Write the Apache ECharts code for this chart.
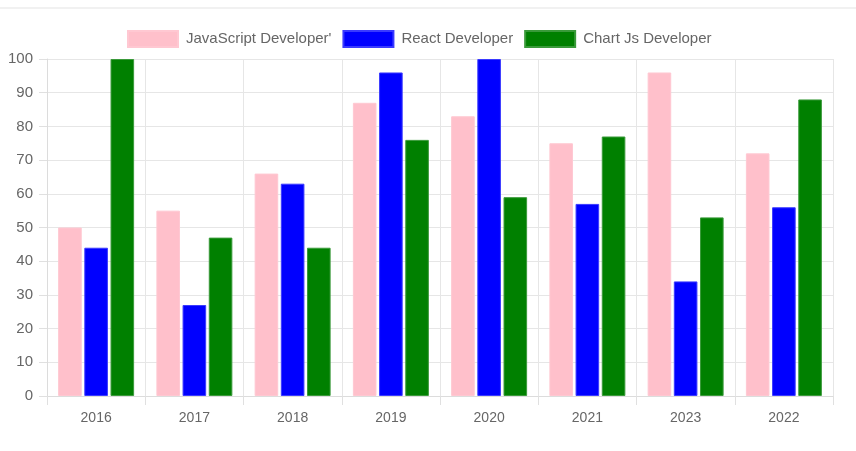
<!DOCTYPE html>
<html><head><meta charset="utf-8">
<script src="https://cdn.jsdelivr.net/npm/echarts@6/dist/echarts.min.js"></script>
<style>html,body{margin:0;padding:0;background:#fff}#c{width:856px;height:451px}</style>
</head><body><div id="c"></div>
<script>
const categories = ['2016','2017','2018','2019','2020','2021','2023','2022'];
const jsDev = [50, 55, 66, 87, 83, 75, 96, 72];
const reactDev = [44, 27, 63, 96, 100, 57, 34, 56];
const chartJsDev = [100, 47, 44, 76, 59, 77, 53, 88];
const seriesNames = ["JavaScript Developer'", 'React Developer', 'Chart Js Developer'];
const yTicks = {min: 0, max: 100, interval: 10};

const font = 'Liberation Sans, Arial, Helvetica, sans-serif';
const chart = echarts.init(document.getElementById('c'), null, {renderer: 'canvas'});
const mk = (name, data, color, border) => ({
  name, type: 'bar', data,
  barWidth: 23.6, barGap: '11%',
  itemStyle: {color, borderColor: border, borderWidth: 1},
  emphasis: {disabled: true}
});
chart.setOption({
  animation: false,
  textStyle: {fontFamily: font},
  graphic: [{type: 'line', shape: {x1: 0, y1: 8, x2: 856, y2: 8}, style: {stroke: '#e3e3e3', lineWidth: 1}}],
  legend: {
    top: 25, left: 122, itemWidth: 50, itemHeight: 16, itemGap: 11,
    icon: 'rect',
    textStyle: {color: '#666', fontSize: 15, fontFamily: font, padding: [0, 0, 0, 3]},
    data: seriesNames
  },
  grid: {left: 47, right: 23, top: 59, bottom: 55, containLabel: false},
  xAxis: {
    type: 'category', data: categories, boundaryGap: true,
    axisLine: {show: true, lineStyle: {color: '#dcdcdc'}},
    axisTick: {show: true, length: 9, lineStyle: {color: '#e0e0e0'}},
    axisLabel: {color: '#666', fontSize: 14, margin: 15, fontFamily: font},
    splitLine: {show: true, lineStyle: {color: '#e6e6e6'}}
  },
  yAxis: {
    type: 'value', min: yTicks.min, max: yTicks.max, interval: yTicks.interval,
    axisLine: {show: true, lineStyle: {color: '#dcdcdc'}},
    axisTick: {show: true, length: 8, lineStyle: {color: '#e0e0e0'}},
    axisLabel: {color: '#666', fontSize: 15, margin: 14, fontFamily: font},
    splitLine: {show: true, lineStyle: {color: '#e6e6e6'}}
  },
  series: [
    mk(seriesNames[0], jsDev, '#FFC0CB', '#ffc8d2'),
    mk(seriesNames[1], reactDev, '#0000FF', '#3a3aff'),
    mk(seriesNames[2], chartJsDev, '#008000', '#3a9a3a')
  ]
});
</script></body></html>
